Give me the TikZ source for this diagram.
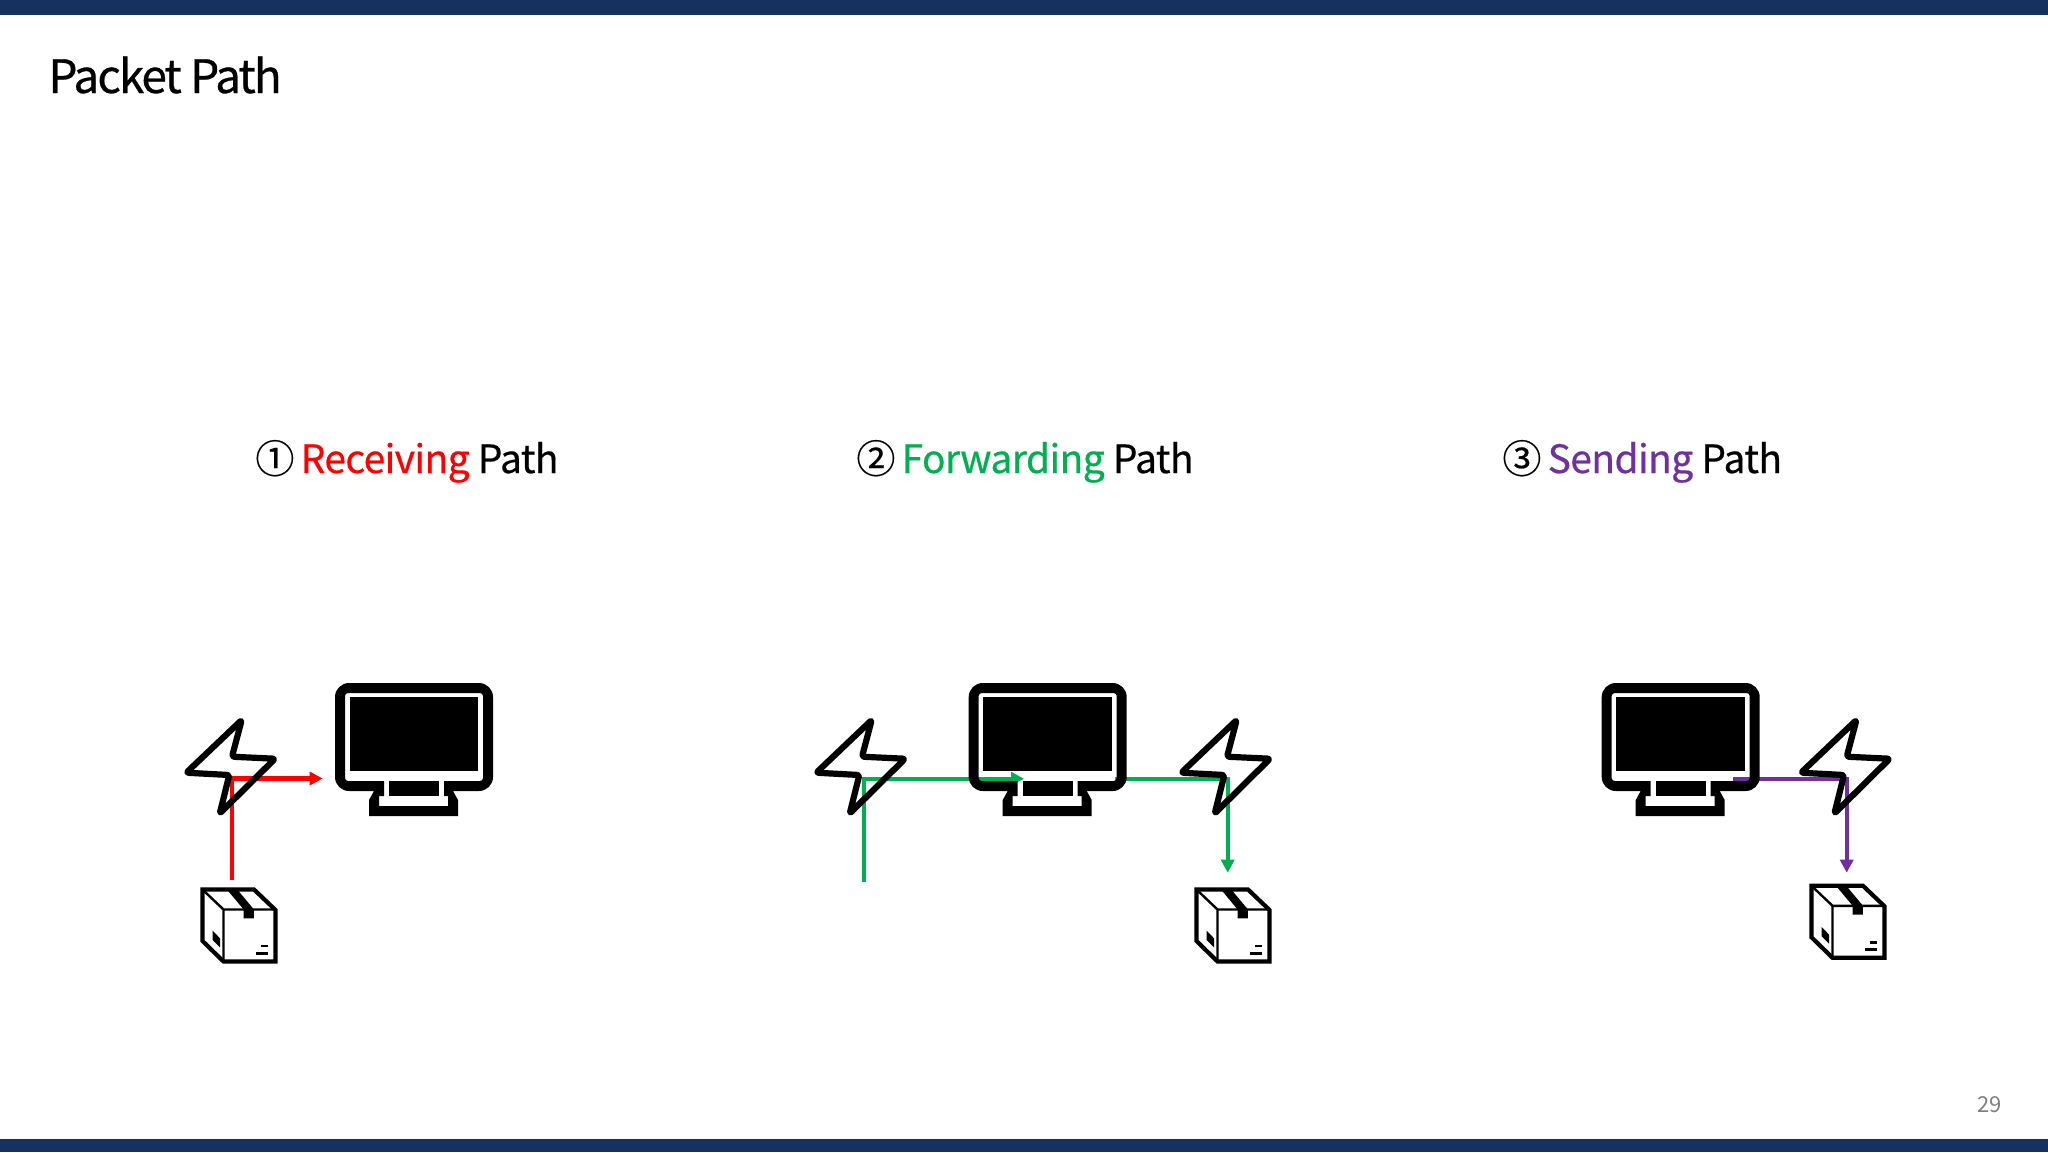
\documentclass[tikz,border=0pt]{standalone}
\usepackage{fontspec}
\usetikzlibrary{arrows.meta}
\setmainfont{Noto Sans CJK KR}
\newfontfamily\headfont[LetterSpace=-1.6,FakeBold=0.5]{Noto Sans CJK KR}
\newfontfamily\titlefont[LetterSpace=-4.2,FakeBold=0.6]{Noto Sans CJK KR}
\definecolor{navy}{HTML}{14315F}
\definecolor{pathred}{HTML}{FF0000}
\definecolor{pathgreen}{HTML}{00B050}
\definecolor{pathpurple}{HTML}{7030A0}
\definecolor{pagegray}{HTML}{7F7F7F}
\tikzset{
  x=0.5pt,y=-0.5pt,
  bar/.style={fill=navy,draw=none},
  route/.style={line width=2.1pt,line join=miter,-{Triangle[length=6.5pt,width=6.5pt]}},
  heading/.style={font=\headfont\fontsize{19.5}{23}\selectfont,inner sep=0pt,anchor=base west},
  pics/monitor/.style={code={
    \fill[black,even odd rule]
      [rounded corners=7pt] (79,0) -- (158,0) -- (158,108)
      [sharp corners] -- (118,108) -- (123,117) -- (123,133) -- (34,133) -- (34,117) -- (39,108)
      [rounded corners=7pt] -- (0,108) -- (0,0) -- cycle
      [sharp corners] (79,10) [rounded corners=1.5pt] -- (148,10) -- (148,98)
      [sharp corners] -- (109,98) -- (109,113) -- (113,113) -- (113,123) -- (44,123) -- (44,113) -- (49,113) -- (49,98)
      [rounded corners=1.5pt] -- (10,98) -- (10,10) -- cycle;
    \fill[black] (14.7,14.3) rectangle (143.3,88.3);
    \fill[black] (54,98) rectangle (104,113);
  }},
  pics/bolt/.style={code={
    \draw[black,line width=3.1pt,line join=round,rounded corners=1.2pt]
      (62,96.7) -- (105,98.7) -- (49.7,153.5) -- (59.3,115) -- (16.3,112.7) -- (71.7,60) -- cycle;
  }},
  pics/parcel/.style={code={
    \draw[black,line width=2.1pt,line join=miter]
      (12.5,19.5) -- (64,19.5) -- (85.5,40) -- (85.5,91.5) -- (33.5,91.5) -- (12.5,71) -- cycle;
    \draw[black,line width=1.2pt] (13,20) -- (33.5,39.5) -- (33.5,91.5) (33.5,39.5) -- (85.5,39.5);
    \fill[black] (35.7,18) -- (46,18) -- (63.8,39.3) -- (63.8,48.3) -- (53.5,48.3) -- (53.5,39.3) -- cycle;
    \fill[black] (22.7,60.7) -- (30,68.3) -- (30,77.3) -- (22.7,70) -- cycle;
    \draw[black,line width=1.2pt] (70.7,76) -- (78.3,76) (66,83.3) -- (78.3,83.3);
  }},
}
\begin{document}
\begin{tikzpicture}
\useasboundingbox (0,0) rectangle (2048,1152);
\fill[white] (0,0) rectangle (2048,1152);
\fill[bar] (0,0) rectangle (2048,15);
\fill[bar] (0,1139) rectangle (2048,1152);

\node[inner sep=0pt,anchor=base west,font=\titlefont\fontsize{23}{28}\selectfont] (title) at (48,93) {Packet Path};
\node[heading] (recv) at (255,473) {①\hspace{0.16em}\textcolor{pathred}{Receiving} Path};
\node[heading] (fwd) at (856,473) {②\hspace{0.16em}\textcolor{pathgreen}{Forwarding} Path};
\node[heading] (send) at (1502,473) {③\hspace{0.16em}\textcolor{pathpurple}{Sending} Path};
\node[inner sep=0pt,anchor=base east,text=pagegray,font=\fontsize{11}{13}\selectfont] (page) at (2002,1112.7) {29};

% Receiving path
\coordinate (r1) at (231.7,880);
\coordinate (r2) at (231.7,778.5);
\coordinate (r3) at (322.7,778.5);
\draw[route,pathred] (r1) -- (r2) -- (r3);
% Forwarding path
\coordinate (g1) at (863.7,881.7);
\coordinate (g2) at (863.7,778.7);
\coordinate (g3) at (1024,778.7);
\coordinate (g4) at (1115,778.7);
\coordinate (g5) at (1227.7,778.7);
\coordinate (g6) at (1227.7,872.7);
\draw[route,pathgreen] (g1) -- (g2) -- (g3);
\draw[route,pathgreen] (g4) -- (g5) -- (g6);
% Sending path
\coordinate (p1) at (1733.3,778.7);
\coordinate (p2) at (1846.7,778.7);
\coordinate (p3) at (1846.7,872.7);
\draw[route,pathpurple] (p1) -- (p2) -- (p3);

\pic (mon1) at (335,683) {monitor};
\pic (mon2) at (968.7,683) {monitor};
\pic (mon3) at (1601.7,683) {monitor};
\pic (bolt1) at (170,660) {bolt};
\pic (bolt2) at (800,660) {bolt};
\pic (bolt3) at (1165,660) {bolt};
\pic (bolt4) at (1784.7,660) {bolt};
\pic (box1) at (190,870) {parcel};
\pic (box2) at (1184,870) {parcel};
\pic (box3) at (1799,866.3) {parcel};
\end{tikzpicture}
\end{document}
